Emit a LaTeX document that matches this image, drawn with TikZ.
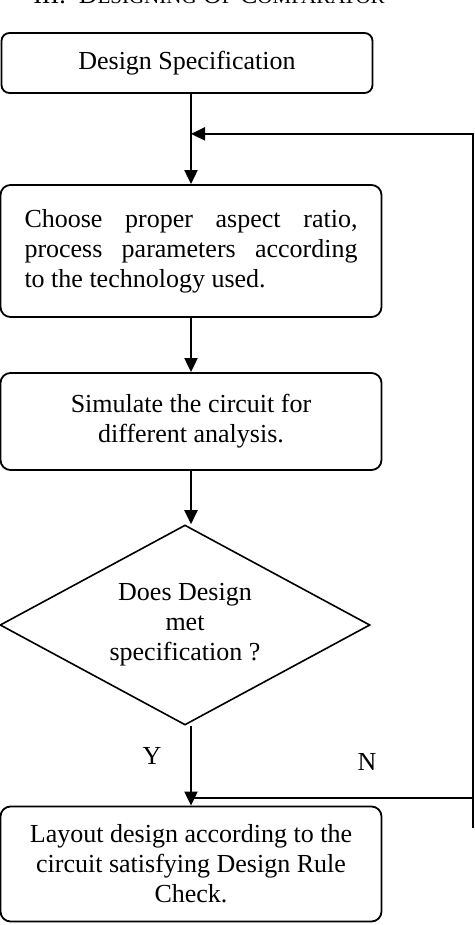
\documentclass[tikz,border=0pt]{standalone}
\usepackage{fontspec}
\setmainfont{Liberation Serif}
\usetikzlibrary{shapes.geometric,arrows.meta,positioning}
\tikzset{
    stepbox/.style={
           rectangle, rounded corners=10pt,
           draw=black, line width=1.8pt,
           minimum width=381pt,
           align=center,
           font=\fontsize{26}{30}\selectfont
           },
    decision/.style={
           diamond, aspect=1.85,
           draw=black, line width=1.6pt,
           minimum width=370pt,
           minimum height=200pt,
           inner sep=1pt, align=center,
           font=\fontsize{26}{30}\selectfont
           },
    answer/.style={
           inner sep=0pt,
           font=\fontsize{26}{30}\selectfont
           },
    flow/.style={->, line width=2pt}
}

\begin{document}
\begin{tikzpicture}[x=1pt, y=1pt, >={Triangle[length=14pt,width=13pt]}, node distance=170pt, on grid]
\useasboundingbox (0,0) rectangle (474,-925);
\clip (0,0) rectangle (474,-925);
%\node[heading] (title) {...};
   \node[anchor=base, inner sep=0pt, font=\fontsize{26}{30}\selectfont] (title) at (209,-4)
        {III.\ \ D{\fontsize{21}{24}\selectfont ESIGNING} O{\fontsize{21}{24}\selectfont F} C{\fontsize{21}{24}\selectfont OMPARATOR}};
   \node[stepbox, minimum width=371pt, minimum height=60pt, rounded corners=8pt] (spec) at (187,-63) {Design Specification};
   \node[stepbox, minimum height=132pt, text width=333pt, align=justify] (choose) [below=188pt of spec, xshift=4pt]
        {Choose proper aspect ratio,\linebreak process parameters according\linebreak to the technology used.};
   \node[stepbox, minimum height=97pt] (sim) [below=170.5pt of choose] {Simulate the circuit for\\different analysis.};
   \node[decision] (dec) [below=203.5pt of sim, xshift=-6pt] {Does Design\\met\\specification ?};
   \node[stepbox, minimum height=115pt] (layout) [below=239pt of dec, xshift=6pt]
        {Layout design according to the\\circuit satisfying Design Rule\\Check.};
   \node[answer] (yes) at (152,-756) {Y};
   \node[answer] (no) at (367,-762) {N};
   \coordinate (join) at ([yshift=8pt]layout.north);
   \coordinate (back) at ([yshift=-40pt]spec.south -| choose.north);
   \coordinate (edge) at (473,-828);
   \draw[flow] (spec.south -| choose.north) -- (choose.north);
   \draw[flow] (choose) -- (sim);
   \draw[flow] (sim.south) -- (sim.south |- dec.north);
   \draw[flow] (dec.south -| layout.north) -- (layout.north);
   \draw[line width=2pt] (join) -- (join -| edge);
   \draw[flow] (edge) -- (edge |- back) -- (back);
\end{tikzpicture}
\end{document}
